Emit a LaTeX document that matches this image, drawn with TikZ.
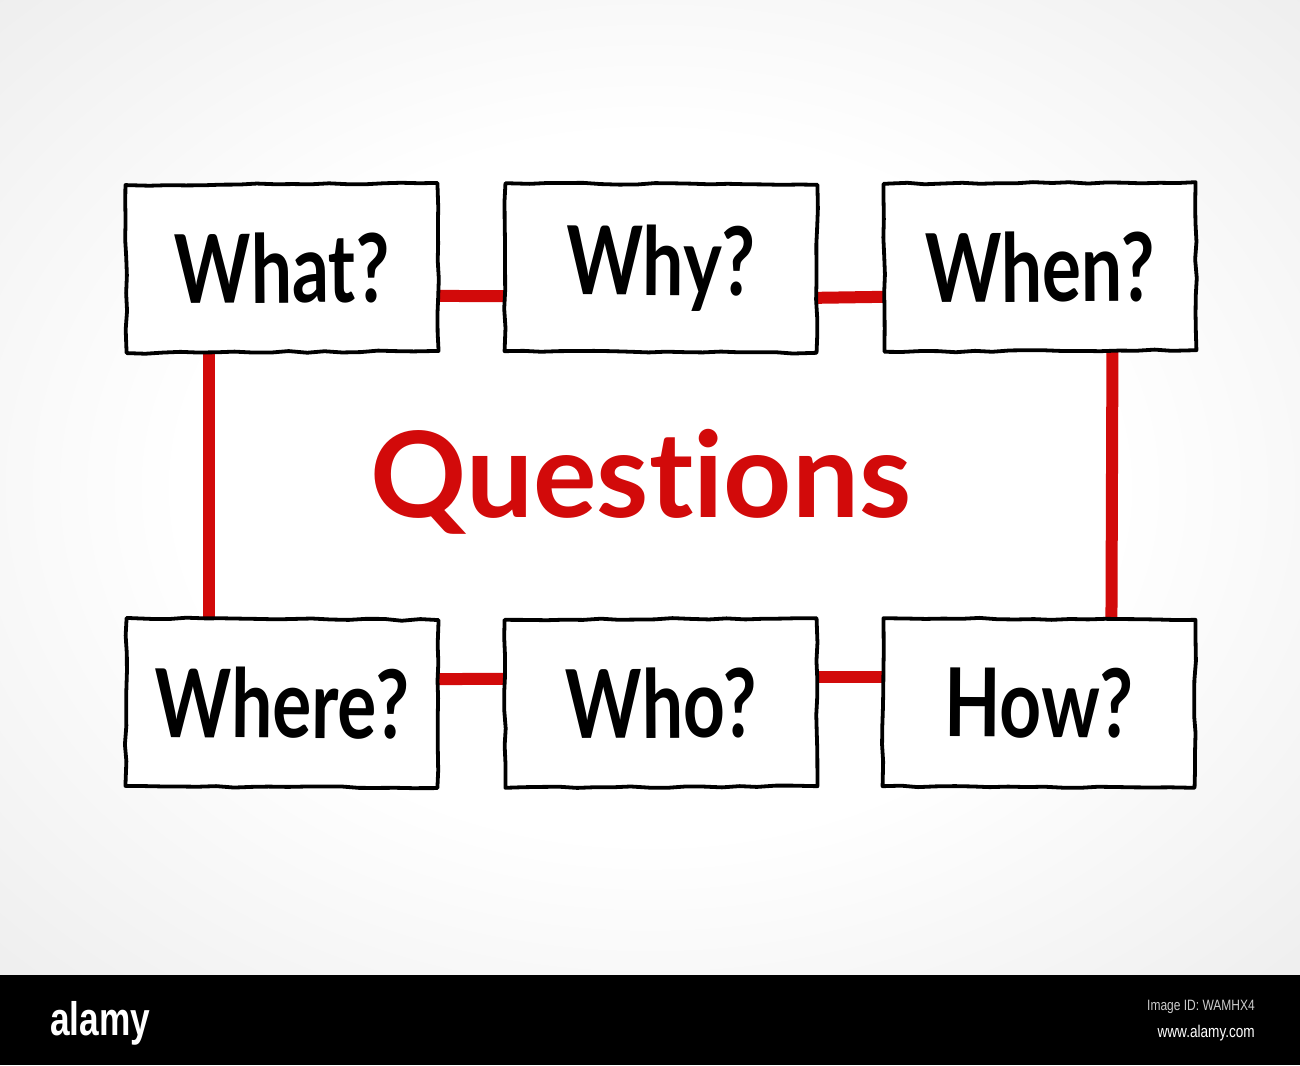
\documentclass[tikz,border=0pt]{standalone}
\usepackage{fontspec}
\newfontfamily\hand[FakeStretch=0.77]{Lato Bold}
\newfontfamily\qfont[Ligatures=NoCommon]{Lato Bold}
\newfontfamily\banner[FakeStretch=0.75]{Liberation Sans Bold}
\newfontfamily\bannerthin[FakeStretch=0.8]{Liberation Sans}
\usetikzlibrary{decorations.pathmorphing}
\definecolor{qred}{HTML}{D20A0A}
\pgfdeclareradialshading{bgshade}{\pgfpoint{0bp}{0bp}}{color(0bp)=(white); color(18bp)=(white); color(50bp)=(black!12); color(72bp)=(black!24)}
\pgfmathsetseed{7}
\tikzset{
  qbox/.style={draw=black, line width=3.8pt, line join=round, fill=white,
    minimum width=312pt, minimum height=168pt, inner sep=0pt,
    decorate, decoration={random steps, segment length=18pt, amplitude=0.9pt},
    font=\hand\fontsize{95}{100}\selectfont},
  link/.style={draw=qred, line width=12pt},
}
\begin{document}
\begin{tikzpicture}[x=1pt,y=-1pt]
\useasboundingbox (0,0) rectangle (1300,1065);
\shade[shading=bgshade] (0,0) rectangle (1300,975);
\fill[black] (0,975) rectangle (1300,1065);
% connectors (drawn first, boxes cover their ends)
\path (282,268) node[minimum width=312pt, minimum height=168pt, rotate=0.4] (what) {}
      (661,268) node[minimum width=312pt, minimum height=168pt, rotate=-0.3] (why) {}
      (1040,267) node[minimum width=312pt, minimum height=168pt, rotate=0.3] (when) {}
      (282,703) node[minimum width=312pt, minimum height=168pt, rotate=-0.4] (where) {}
      (661,703) node[minimum width=312pt, minimum height=168pt, rotate=0.3] (who) {}
      (1039,703) node[minimum width=312pt, minimum height=168pt, rotate=-0.3] (how) {};
\draw[link] ([yshift=-29pt]what.east) -- ([yshift=-29pt]why.west);
\draw[link] ([yshift=-29pt]why.east) -- ([yshift=-29pt]when.west);
\draw[link] ([yshift=25pt]where.east) -- ([yshift=25pt]who.west);
\draw[link] ([yshift=25pt]who.east) -- ([yshift=25pt]how.west);
\draw[link] ([xshift=-74pt]what.south) -- ([xshift=-74pt]where.north);
\draw[link] ([xshift=72pt]when.south) -- ([xshift=72pt]how.north);
% boxes
\node[qbox, rotate=0.4] (whatbox)  at (what) {What?};
\node[qbox, rotate=-0.3] (whybox)  at (why) {Why?};
\node[qbox, rotate=0.3] (whenbox)  at (when) {When?};
\node[qbox, rotate=-0.4] (wherebox) at (where) {Where?};
\node[qbox, rotate=0.3] (whobox)   at (who) {Who?};
\node[qbox, rotate=-0.3] (howbox)  at (how) {How?};
% centre
\node[text=qred, font=\qfont\fontsize{119}{124}\selectfont] (q) at (641,482) {Questions};
% banner
\node[text=white, font=\banner\fontsize{47}{50}\selectfont, anchor=base west, inner sep=0pt] (al) at (50,1035) {alamy};
\node[text=white!80!black, font=\bannerthin\fontsize{15}{18}\selectfont, anchor=base east, inner sep=0pt] (iid) at (1255,1010) {Image ID: WAMHX4};
\node[text=white, font=\bannerthin\fontsize{17}{20}\selectfont, anchor=base east, inner sep=0pt] (www) at (1255,1037) {www.alamy.com};
\end{tikzpicture}
\end{document}
